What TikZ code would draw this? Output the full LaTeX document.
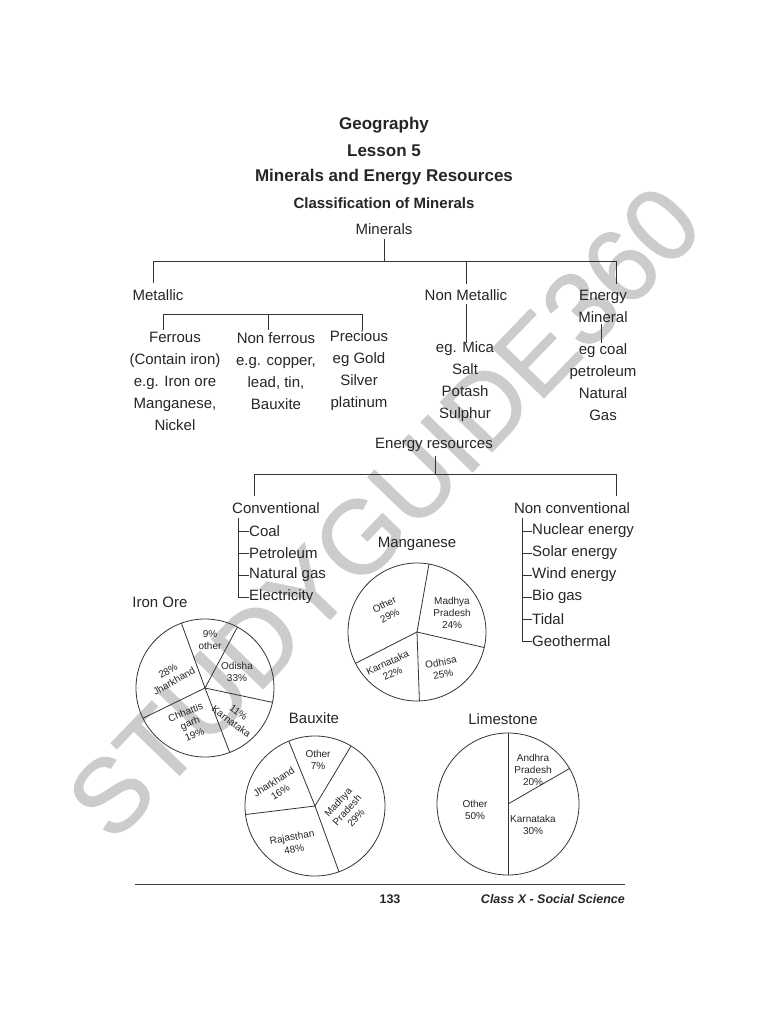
\documentclass[tikz,border=0pt]{standalone}
\usepackage{fontspec}
\setmainfont{Liberation Sans}
\newfontfamily\wmfont[FakeBold=1]{Liberation Sans}
\begin{document}
\begin{tikzpicture}[x=1pt,y=-1pt,
  txt/.style={font=\fontsize{15}{22}\selectfont, text=black!85, inner sep=0pt, align=center},
  itm/.style={font=\fontsize{15}{22}\selectfont, text=black!85, inner sep=0pt, anchor=west},
  ttl/.style={font=\bfseries\fontsize{17}{20}\selectfont, text=black!85, inner sep=0pt},
  pl/.style={font=\fontsize{10}{12}\selectfont, text=black!85, inner sep=0pt, align=center},
  ln/.style={line width=0.8pt, draw=black!80},
  pie/.style={line width=0.8pt, draw=black!80}]
\useasboundingbox[fill=white] (0,0) rectangle (768,1024);

% watermark
\node[font=\wmfont\fontsize{104}{104}\selectfont, text=black!20, rotate=46, inner sep=0pt] (wm) at (384,512) {STUDYGUIDE360};

% header
\node[ttl] (t1) at (384,125) {Geography};
\node[ttl] (t2) at (384,151) {Lesson 5};
\node[ttl] (t3) at (384,177) {Minerals and Energy Resources};
\node[ttl, font=\bfseries\fontsize{15}{18}\selectfont] (t4) at (384,203) {Classification of Minerals};

% minerals tree
\node[txt] (minerals) at (384,229) {Minerals};
\node[txt] (metallic) at (158,295) {Metallic};
\node[txt] (nonmet) at (466,295) {Non Metallic};
\node[txt] (energy) at (603,306) {Energy\\Mineral};
\node[txt] (ferrous) at (175,381) {Ferrous\\(Contain iron)\\e.g. Iron ore\\Manganese,\\Nickel};
\node[txt] (nonfer) at (276,371) {Non ferrous\\e.g. copper,\\lead, tin,\\Bauxite};
\node[txt] (precious) at (359,371) {Precious\\eg Gold\\Silver\\platinum};
\node[txt] (mica) at (465,382) {eg. Mica\\Salt\\Potash\\Sulphur};
\node[txt] (coal) at (603,382) {eg coal\\petroleum\\Natural\\Gas};

\coordinate (mb) at (384,261);
\draw[ln] (384,239) -- (mb);
\draw[ln] (153,283) |- (616,261) -- (616,284);
\draw[ln] (466,261) -- (466,284);
\draw[ln] (466,304) -- (466,343);
\draw[ln] (601,324) -- (601,343);
\draw[ln] (163,330) |- (362,314) -- (362,330);
\draw[ln] (268,314) -- (268,330);

% energy resources tree
\node[txt] (enres) at (434,445) {Energy resources};
\node[txt] (conv) at (276,508) {Conventional};
\node[txt] (nconv) at (572,508) {Non conventional};
\draw[ln] (435,456) -- (435,474);
\draw[ln] (254,496) |- (616,474) -- (616,496);

\node[itm] (c1) at (249,531) {Coal};
\node[itm] (c2) at (249,553) {Petroleum};
\node[itm] (c3) at (249,575) {Natural gas};
\node[itm] (c4) at (249,597) {Electricity};
\draw[ln] (238,518) |- (c4.west);
\draw[ln] (238,531) -- (c1.west);
\draw[ln] (238,553) -- (c2.west);
\draw[ln] (238,575) -- (c3.west);

\node[itm] (n1) at (532,531) {Nuclear energy};
\node[itm] (n2) at (532,553) {Solar energy};
\node[itm] (n3) at (532,575) {Wind energy};
\node[itm] (n4) at (532,597) {Bio gas};
\node[itm] (n5) at (532,619) {Tidal};
\node[itm] (n6) at (532,641) {Geothermal};
\draw[ln] (522,518) |- (n6.west);
\draw[ln] (522,531) -- (n1.west);
\draw[ln] (522,553) -- (n2.west);
\draw[ln] (522,575) -- (n3.west);
\draw[ln] (522,597) -- (n4.west);
\draw[ln] (522,619) -- (n5.west);

% pie titles
\node[txt] (pmn) at (417,544) {Manganese};
\node[txt] (pio) at (160,602) {Iron Ore};
\node[txt] (pbx) at (314,718) {Bauxite};
\node[txt] (pls) at (503,719) {Limestone};

% Iron ore pie
\coordinate (ci) at (205,688);
\draw[pie] (ci) circle (69);
\foreach \a in {-110,-62,12,69,154} \draw[pie] (ci) -- +(\a:69);
\node[pl] (i1) at (210,640) {9\%\\other};
\node[pl] (i2) at (237,672) {Odisha\\33\%};
\node[pl, rotate=30] (i3) at (171,676) {28\%\\Jharkhand};
\node[pl, rotate=-37] (i4) at (235,717) {11\%\\Karnataka};
\node[pl, rotate=22] (i5) at (190,723) {Chhattis\\garh\\19\%};

% Manganese pie
\coordinate (cm) at (417,632);
\draw[pie] (cm) circle (69);
\foreach \a in {-80,13,88,153} \draw[pie] (cm) -- +(\a:69);
\node[pl] (m1) at (452,613) {Madhya\\Pradesh\\24\%};
\node[pl, rotate=27] (m2) at (387,610) {Other\\29\%};
\node[pl, rotate=25] (m3) at (390,668) {Karnataka\\22\%};
\node[pl, rotate=10] (m4) at (442,668) {Odhisa\\25\%};

% Bauxite pie
\coordinate (cb) at (315,806);
\draw[pie] (cb) circle (70);
\foreach \a in {-112,-59,70,173} \draw[pie] (cb) -- +(\a:70);
\node[pl] (b1) at (318,760) {Other\\7\%};
\node[pl, rotate=33] (b2) at (277,787) {Jharkhand\\16\%};
\node[pl, rotate=48] (b3) at (347,810) {Madhya\\Pradesh\\29\%};
\node[pl, rotate=10] (b4) at (293,843) {Rajasthan\\48\%};

% Limestone pie
\coordinate (cl) at (508,804);
\draw[pie] (cl) circle (71);
\draw[pie] (508,733) -- (508,875);
\draw[pie] (cl) -- +(-30:71);
\node[pl] (l1) at (533,770) {Andhra\\Pradesh\\20\%};
\node[pl] (l2) at (533,825) {Karnataka\\30\%};
\node[pl] (l3) at (475,810) {Other\\50\%};

% footer
\draw[line width=1pt, draw=black!75] (135,884) -- (625,884);
\node[font=\bfseries\fontsize{12.5}{15}\selectfont, text=black!85, inner sep=0pt] (pg) at (390,899) {133};
\node[font=\bfseries\itshape\fontsize{12.5}{15}\selectfont, text=black!85, inner sep=0pt, anchor=east] (cls) at (625,899) {Class X - Social Science};
\end{tikzpicture}
\end{document}
